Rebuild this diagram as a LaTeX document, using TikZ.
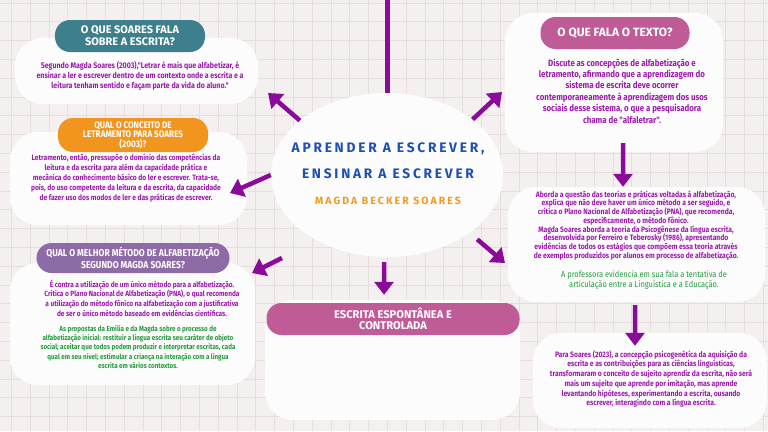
\documentclass[tikz,border=0pt]{standalone}
\usepackage{fontspec}
\setmainfont{Fira Sans}
\newfontfamily\narrowfont[FakeStretch=0.86]{Fira Sans}
\newfontfamily\headfont[LetterSpace=20]{Fira Sans}
\usetikzlibrary{
	arrows.meta,
	positioning,
	shapes.geometric
}
\definecolor{PaperTint}{HTML}{F4F0F0}
\definecolor{GridLine}{HTML}{E6DDDD}
\definecolor{BlobWhite}{HTML}{FDFCFC}
\definecolor{TitleTeal}{HTML}{3E7F8D}
\definecolor{TitleOrange}{HTML}{F2951F}
\definecolor{TitleLavender}{HTML}{8E6AA6}
\definecolor{TitlePink}{HTML}{BF5C98}
\definecolor{ArrowPurple}{HTML}{8A0A99}
\definecolor{BodyPurple}{HTML}{9C1AAE}
\definecolor{BodyGreen}{HTML}{239B3D}
\definecolor{HeadBlue}{HTML}{1E50B0}
\definecolor{NameOrange}{HTML}{F39A1E}

\begin{document}
\begin{tikzpicture}[x=1bp,y=-1bp,
 blob/.style={fill=BlobWhite,rounded corners=28bp,inner sep=0pt},
 pill/.style={rounded corners=15bp,text=white,align=center,inner sep=0pt,
   font=\bfseries\fontsize{11}{12}\selectfont},
 bodytext/.style={align=center,inner sep=0pt,text=BodyPurple,
   font=\narrowfont\bfseries\fontsize{8.2}{9.6}\selectfont},
 greentext/.style={bodytext,text=BodyGreen},
 flow/.style={-{Triangle[length=13bp,width=19bp]},draw=ArrowPurple,line width=4.5bp},
 gridline/.style={draw=GridLine,line width=.8bp}
]
 \useasboundingbox (0,0) rectangle (768,431);
 \fill[PaperTint] (0,0) rectangle (768,431);
 \foreach \gx in {0,...,40}
   \draw[gridline] ({11.4+18.8*\gx},0) -- ({11.4+18.8*\gx},431);
 \foreach \gy in {0,...,22}
   \draw[gridline] (0,{3+18.8*\gy}) -- (768,{3+18.8*\gy});

 \node[blob,minimum width=243bp,minimum height=66bp] (sobrebox) at (136.5,71) {};
 \node[blob,minimum width=237bp,minimum height=93bp] (letrambox) at (128.5,178.5) {};
 \node[blob,minimum width=245bp,minimum height=122bp] (metodobox) at (132.5,324) {};
 \node[blob,minimum width=218bp,minimum height=139bp] (textobox) at (614,82.5) {};
 \node[blob,minimum width=257bp,minimum height=115bp] (abordabox) at (636.5,244.5) {};
 \node[blob,minimum width=234bp,minimum height=95bp] (parabox) at (650,380.5) {};
 \node[blob,minimum width=255bp,minimum height=120bp] (escritabox) at (392.5,360) {};

 \coordinate (topend) at (387,0);
 \node[ellipse,fill=BlobWhite,inner sep=0pt,minimum width=232bp,
   minimum height=164bp] (aprender) at (387,175) {};
 \node[align=center,text=HeadBlue,inner sep=0pt,
   font=\headfont\bfseries\fontsize{13.8}{26}\selectfont] (aprendertxt) at (388,174)
   {APRENDER A ESCREVER,\\ENSINAR A ESCREVER\\
    {\color{NameOrange}\fontsize{10.5}{12}\selectfont MAGDA BECKER SOARES}};
 \draw[ArrowPurple,line width=5bp] (topend) -- (aprender.north);

 \node[pill,fill=TitleTeal,minimum width=150bp,minimum height=32bp] (sobretitle)
   at (130,36) {O QUE SOARES FALA\\SOBRE A ESCRITA?};
 \node[bodytext] (sobretxt) at (140,76)
   {Segundo Magda Soares (2003),"Letrar é mais que alfabetizar, é\\
    ensinar a ler e escrever dentro de um contexto onde a escrita e a\\
    leitura tenham sentido e façam parte da vida do aluno."};

 \node[pill,fill=TitleOrange,minimum width=150bp,minimum height=34bp,
   font=\narrowfont\bfseries\fontsize{9.5}{9.5}\selectfont] (letramtitle)
   at (133,135) {QUAL O CONCEITO DE\\LETRAMENTO PARA SOARES\\(2003)?};
 \node[bodytext,font=\narrowfont\bfseries\fontsize{7.8}{10}\selectfont] (letramtxt)
   at (126,178)
   {Letramento, então, pressupõe o domínio das competências da\\
    leitura e da escrita para além da capacidade prática e\\
    mecânica do conhecimento básico do ler e escrever. Trata-se,\\
    pois, do uso competente da leitura e da escrita, da capacidade\\
    de fazer uso dos modos de ler e das práticas de escrever.};

 \node[pill,fill=TitleLavender,minimum width=193bp,minimum height=30bp,
   font=\narrowfont\bfseries\fontsize{10}{12}\selectfont] (metodotitle)
   at (133,258) {QUAL O MELHOR MÉTODO DE ALFABETIZAÇÃO\\SEGUNDO MAGDA SOARES?};
 \node[bodytext,font=\narrowfont\bfseries\fontsize{7.6}{9.7}\selectfont] (metodotxt)
   at (142,298)
   {É contra a utilização de um único método para a alfabetização.\\
    Critica o Plano Nacional de Alfabetização (PNA), o qual recomenda\\
    a utilização do método fônico na alfabetização com a justificativa\\
    de ser o único método baseado em evidências científicas.};
 \node[greentext,font=\narrowfont\bfseries\fontsize{7.3}{9.3}\selectfont] (propostatxt)
   at (138,347)
   {As propostas da Emília e da Magda sobre o processo de\\
    alfabetização inicial: restituir a língua escrita seu caráter de objeto\\
    social; aceitar que todos podem produzir e interpretar escritas, cada\\
    qual em seu nível; estimular a criança na interação com a língua\\
    escrita em vários contextos.};

 \node[pill,fill=TitlePink,minimum width=149bp,minimum height=32bp,
   font=\bfseries\fontsize{12}{12}\selectfont] (textotitle)
   at (615,33) {O QUE FALA O TEXTO?};
 \node[bodytext,font=\narrowfont\bfseries\fontsize{9.2}{11.5}\selectfont] (textotxt)
   at (622,91)
   {Discute as concepções de alfabetização e\\
    letramento, afirmando que a aprendizagem do\\
    sistema de escrita deve ocorrer\\
    contemporaneamente à aprendizagem dos usos\\
    sociais desse sistema, o que a pesquisadora\\
    chama de "alfaletrar".};

 \node[bodytext,font=\narrowfont\bfseries\fontsize{7.9}{8.8}\selectfont] (abordatxt)
   at (636,225.5)
   {Aborda a questão das teorias e práticas voltadas à alfabetização,\\
    explica que não deve haver um único método a ser seguido, e\\
    critica o Plano Nacional de Alfabetização (PNA), que recomenda,\\
    especificamente, o método fônico.\\
    Magda Soares aborda a teoria da Psicogênese da língua escrita,\\
    desenvolvida por Ferreiro e Teberosky (1986), apresentando\\
    evidências de todos os estágios que compõem essa teoria através\\
    de exemplos produzidos por alunos em processo de alfabetização.};
 \node[greentext,font=\narrowfont\fontsize{8.7}{10}\selectfont] (falatxt)
   at (644,280)
   {A professora evidencia em sua fala a tentativa de\\
    articulação entre a Linguística e a Educação.};

 \node[bodytext,font=\narrowfont\bfseries\fontsize{7.9}{9.8}\selectfont] (paratxt)
   at (651,379)
   {Para Soares (2023), a concepção psicogenética da aquisição da\\
    escrita e as contribuições para as ciências linguísticas,\\
    transformaram o conceito de sujeito aprendiz da escrita, não será\\
    mais um sujeito que aprende por imitação, mas aprende\\
    levantando hipóteses, experimentando a escrita, ousando\\
    escrever, interagindo com a língua escrita.};

 \node[pill,fill=TitlePink,minimum width=253bp,minimum height=32bp,
   font=\bfseries\fontsize{11.2}{11}\selectfont] (escritatitle)
   at (393,319) {ESCRITA ESPONTÂNEA E\\CONTROLADA};

 \coordinate (sobretip) at (268,93);
 \coordinate (letramtip) at (230,193);
 \coordinate (metodotail) at (282,258);
 \coordinate (metodotip) at (252,273);
 \coordinate (textotip) at (502,92);
 \coordinate (abordatip) at (505,263);
 \draw[flow] (aprender.148) -- (sobretip);
 \draw[flow] (aprender.west) -- (letramtip);
 \draw[flow] (metodotail) -- (metodotip);
 \draw[flow] (aprender.33) -- (textotip);
 \draw[flow,shorten <=10bp] (aprender.325) -- (abordatip);
 \draw[flow] ([xshift=-3bp,yshift=-5bp]aprender.south)
   -- ([xshift=-9bp,yshift=8bp]escritatitle.north);
 \draw[flow] ([xshift=9bp,yshift=9bp]textobox.south)
   -- ([xshift=-13.5bp]abordabox.north);
 \draw[flow] ([xshift=-1.5bp,yshift=-3bp]abordabox.south)
   -- ([xshift=-15bp,yshift=-13bp]parabox.north);
\end{tikzpicture}
\end{document}
